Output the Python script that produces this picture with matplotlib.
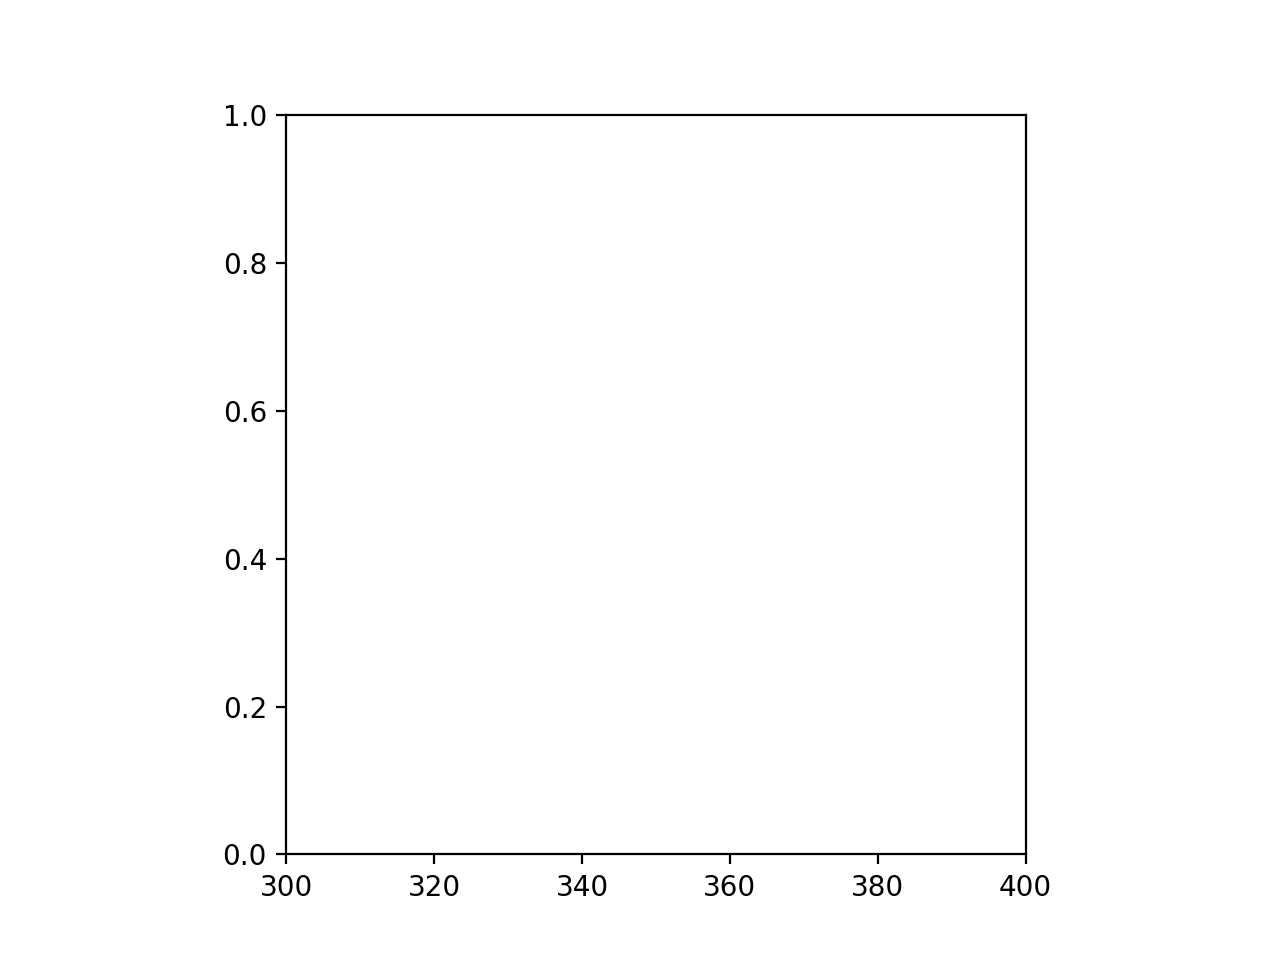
import matplotlib
matplotlib.use("Agg")
import matplotlib.pyplot as plt

x_limits = [300, 400]
y_limits = [0.0, 1.0]
x_ticks = [300, 320, 340, 360, 380, 400]
y_ticks = [0.0, 0.2, 0.4, 0.6, 0.8, 1.0]

fig, ax = plt.subplots(figsize=(6.4, 4.8), dpi=200)
ax.set_xlim(*x_limits)
ax.set_ylim(*y_limits)
ax.set_xticks(x_ticks)
ax.set_yticks(y_ticks)
ax.set_box_aspect(1)
fig.savefig("out.png", dpi=200)
